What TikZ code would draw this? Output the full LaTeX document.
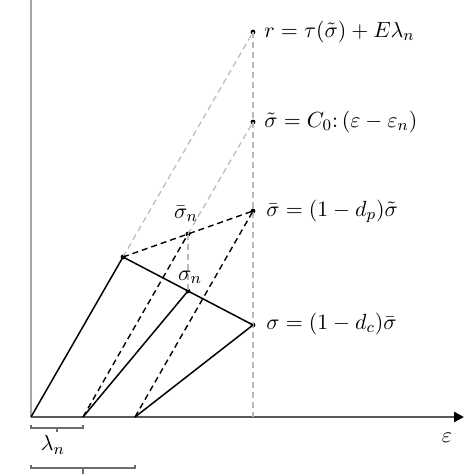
\documentclass[tikz,border=0pt]{standalone}
\usetikzlibrary{arrows.meta}
\begin{document}
\begin{tikzpicture}[x=0.5pt,y=-0.5pt,
  solidline/.style={black,line width=0.75pt},
  blackdash/.style={black,line width=0.7pt,dash pattern=on 3pt off 2pt},
  graydash/.style={gray!55,line width=0.6pt,dash pattern=on 3pt off 2pt},
  pt/.style={circle,fill=black,inner sep=0pt,minimum size=2.4pt},
  lab/.style={anchor=west,inner sep=0pt,font=\fontsize{11}{13}\selectfont},
  brk/.style={gray!85!black,line width=0.6pt}]
\useasboundingbox (0,0) rectangle (474,474);
% coordinates
\coordinate (O) at (31,417);
\coordinate (A) at (83,417);
\coordinate (B) at (135,417);
\coordinate (Ytop) at (31,-5);
\coordinate (Xend) at (464,417);
\coordinate (V) at (253,417);
\node[pt] (P) at (123,257) {};
\node[pt] (Sbn) at (188,234) {};
\node[pt] (Sn) at (188,291) {};
\node[pt] (R) at (253,32) {};
\node[pt] (St) at (253,122) {};
\node[pt] (Sb) at (253,211) {};
\node[pt] (S) at (253,325) {};
% axes
\draw[gray!70,line width=0.6pt] (O) -- (Ytop);
\draw[black!65,line width=1.2pt,-{Triangle[length=5pt,width=5pt,black]}] (O) -- (Xend);
\node[font=\fontsize{11}{13}\selectfont] (ylab) at (12,-6) {$\sigma$};
\node[font=\fontsize{11}{13}\selectfont] (xlab) at (447,438) {$\varepsilon$};
% gray dashed guides
\draw[graydash] (R.center) -- (V);
\draw[graydash] (P.center) -- (R.center);
\draw[graydash] (Sbn.center) -- (St.center);
\draw[graydash] (Sbn.center) -- (Sn.center);
% black dashed
\draw[blackdash] (P.center) -- (Sbn.center) -- (Sb.center);
\draw[blackdash] (A) -- (Sbn.center);
\draw[blackdash] (B) -- (Sb.center);
% solid
\draw[solidline] (O) -- (P.center) -- (S.center);
\draw[solidline] (A) -- (Sn.center);
\draw[solidline] (B) -- (S.center);
% labels
\node[lab] (lR) at (264,32) {$r=\tau(\tilde{\sigma})+E\lambda_n$};
\node[lab] (lSt) at (264,122) {$\tilde{\sigma}=C_0\colon(\varepsilon-\varepsilon_n)$};
\node[lab] (lSb) at (266,211) {$\bar{\sigma}=\bigl(1-d_p\bigr)\tilde{\sigma}$};
\node[lab] (lS) at (266,324) {$\sigma=(1-d_c)\bar{\sigma}$};
\node[font=\fontsize{11}{13}\selectfont] (lSbn) at (186,214) {$\bar{\sigma}_n$};
\node[font=\fontsize{11}{13}\selectfont] (lSn) at (190,277) {$\sigma_n$};
% brackets
\draw[brk] (31,425) -- (31,428) -- (83,428) -- (83,425);
\draw[brk] (57,428) -- (57,432);
\node[font=\fontsize{11}{13}\selectfont] (lam) at (53,445) {$\lambda_n$};
\draw[brk] (31,465) -- (31,468) -- (135,468) -- (135,465);
\draw[brk] (83,468) -- (83,476);
\end{tikzpicture}
\end{document}
